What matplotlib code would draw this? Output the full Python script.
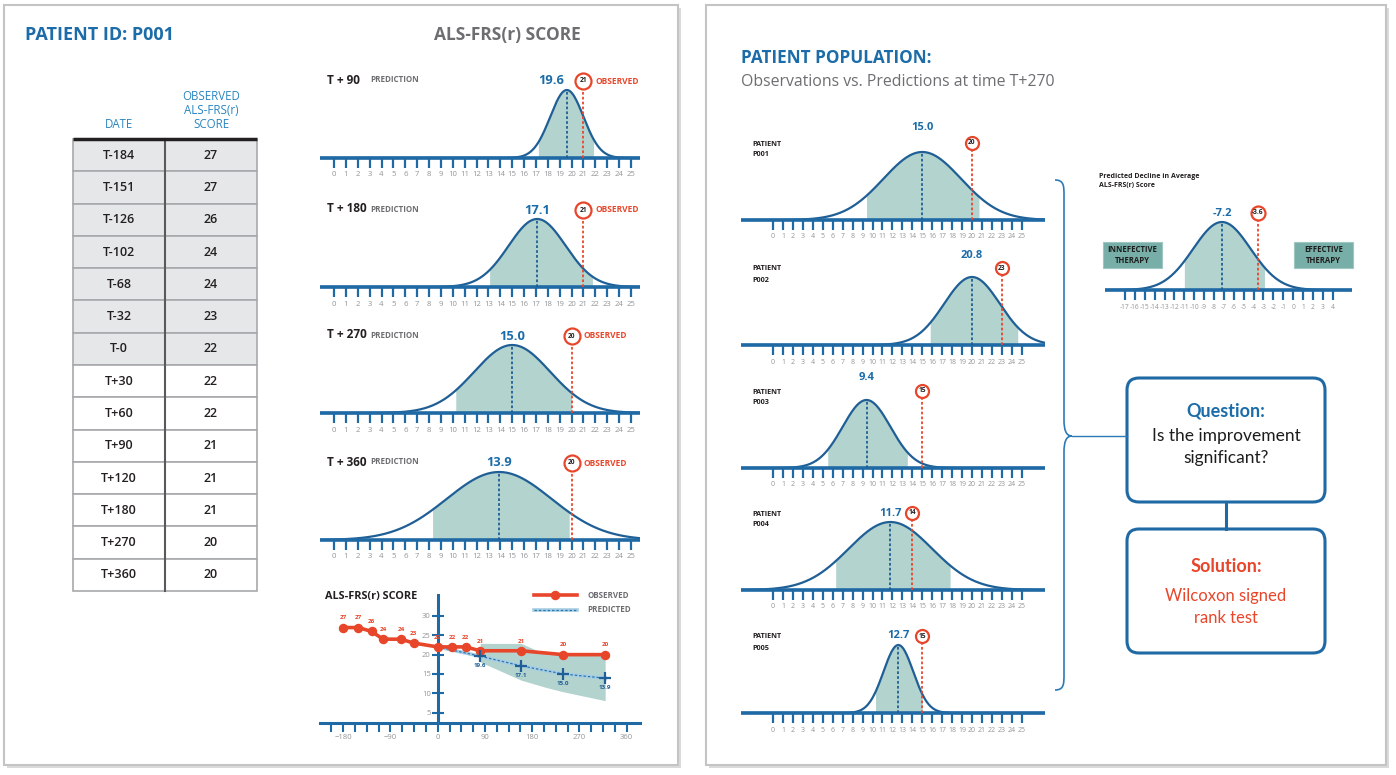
import numpy as np
import matplotlib
matplotlib.use('Agg')
import matplotlib.pyplot as plt
from matplotlib.patches import Rectangle, FancyBboxPatch, PathPatch
from matplotlib.path import Path

W, H = 1396, 775
plt.rcParams['font.family'] = ['Open Sans', 'DejaVu Sans']

# ---- data ----
table_dates = ['T-184', 'T-151', 'T-126', 'T-102', 'T-68', 'T-32', 'T-0',
               'T+30', 'T+60', 'T+90', 'T+120', 'T+180', 'T+270', 'T+360']
table_scores = [27, 27, 26, 24, 24, 23, 22, 22, 22, 21, 21, 21, 20, 20]

horizons = ['T + 90', 'T + 180', 'T + 270', 'T + 360']
pred_mean = [19.6, 17.1, 15.0, 13.9]
pred_sd = [1.4, 2.4, 3.2, 4.4]
pred_lo = [17.2, 13.1, 10.25, 8.3]
pred_hi = [21.85, 21.75, 20.0, 19.8]
pred_obs = [21, 21, 20, 20]

pop_ids = ['P001', 'P002', 'P003', 'P004', 'P005']
pop_centre = [15.0, 20.0, 9.4, 11.8, 12.6]
pop_label = ['15.0', '20.8', '9.4', '11.7', '12.7']
pop_sd = [3.9, 2.8, 2.4, 4.2, 1.5]
pop_lo = [9.4, 15.8, 5.5, 6.3, 10.3]
pop_hi = [20.7, 24.6, 13.5, 17.8, 15.0]
pop_obs = [20, 23, 15, 14, 15]

decl_mean = -7.2
decl_sd = 2.9
decl_lo = -11.0
decl_hi = -2.9
decl_obs = -3.6

obs_day = [-180, -151, -126, -104, -70, -46, 0, 28, 53, 81, 159, 239, 319]
obs_score = [27, 27, 26, 24, 24, 23, 22, 22, 22, 21, 21, 20, 20]
pred_day = [0, 81, 159, 239, 319]
pred_score = [22, 19.6, 17.1, 15.0, 13.9]
band_day = [81, 159, 207, 239, 319]
band_lo = [18.1, 13.4, 11.5, 10.4, 8.1]
band_hi = [22.9, 22.9, 20.0, 20.0, 20.0]

# ---- colours ----
BLUE = '#1b6ca8'
AXIS = '#1f69a4'
CURVE = '#1f5f95'
SHADE = '#b3d3cf'
RED = '#e8462b'
GREY = '#6d6e71'
TICKG = '#939598'
LBLUE = '#2a85c2'

fig = plt.figure(figsize=(W / 100, H / 100), dpi=100)
fig.patch.set_facecolor('white')

# overlay in pixel coordinates for frames, headings and connectors
ax0 = fig.add_axes([0, 0, 1, 1])
ax0.set_xlim(0, W)
ax0.set_ylim(H, 0)
ax0.axis('off')


def px_axes(x0, y0, x1, y1):
    ax = fig.add_axes([x0 / W, 1 - y1 / H, (x1 - x0) / W, (y1 - y0) / H])
    ax.patch.set_visible(False)
    return ax


def txt(x, y, s, **kw):
    kw.setdefault('va', 'center')
    ax0.text(x, y, s, **kw)


# panel frames with a soft shadow
for x, w in [(4, 674), (706, 680)]:
    ax0.add_patch(Rectangle((x + 3, 8), w, 760, fc='#dadada', ec='none'))
    ax0.add_patch(Rectangle((x, 5), w, 760, fc='white', ec='#c4c4c4', lw=1.5))

# ---- left panel: headings and table ----
txt(25, 35, 'PATIENT ID: P001', color=BLUE, fontsize=13, weight='bold')
txt(507, 35, 'ALS-FRS(r) SCORE', color=GREY, fontsize=12.5, weight='bold', ha='center')
txt(119, 125, 'DATE', color=LBLUE, fontsize=8.3, ha='center')
txt(211, 111, 'OBSERVED\nALS-FRS(r)\nSCORE', color=LBLUE, fontsize=8.3, ha='center',
    linespacing=1.1)

axt = px_axes(73, 139, 257, 591)
axt.set_xlim(0, 2)
axt.set_ylim(len(table_dates), 0)
axt.axis('off')
for i, (d, s) in enumerate(zip(table_dates, table_scores)):
    fc = '#e6e7e8' if i < 7 else 'white'
    for c, lab in enumerate([d, str(s)]):
        axt.add_patch(Rectangle((c, i), 1, 1, fc=fc, ec='#a7a9ac', lw=1.2, clip_on=False))
        axt.text(c + 0.5, i + 0.5, lab, ha='center', va='center', fontsize=9,
                 weight='semibold', color='#231f20')
axt.plot([1, 1], [0, len(table_dates)], color='#58595b', lw=1.5, clip_on=False)
axt.plot([0, 2], [0, 0], color='#231f20', lw=2.5, clip_on=False, solid_capstyle='butt')

PEAK = 68
CIRC = 77


def dist_panel(x0, x1, axis_y, tick0, ppu, ticks, centre, sd, lo, hi, obs,
               tick_fs, r, obs_label=None):
    ax = px_axes(x0, axis_y - 100, x1, axis_y + 25)
    ax.set_xlim((x0 - tick0) / ppu, (x1 - tick0) / ppu)
    ax.set_ylim(-25, 100)
    ax.axis('off')
    xs = np.linspace((x0 - tick0) / ppu, (x1 - tick0) / ppu, 500)
    ys = PEAK * np.exp(-0.5 * ((xs - centre) / sd) ** 2)
    xi = np.linspace(lo, hi, 200)
    ax.fill_between(xi, 0, PEAK * np.exp(-0.5 * ((xi - centre) / sd) ** 2),
                    color=SHADE, lw=0)
    ax.plot(xs, ys, color=CURVE, lw=1.6)
    ax.axhline(0, color=AXIS, lw=2.6)
    ax.vlines(ticks, -10, 0, color=AXIS, lw=1.6)
    for t in ticks:
        ax.text(t, -17, str(t), ha='center', va='center', fontsize=tick_fs, color=TICKG)
    ax.vlines(centre, 0, PEAK, color=CURVE, lw=1.3, linestyles=(0, (1.5, 1.2)))
    ax.vlines(obs, 0, CIRC - r, color=RED, lw=1.3, linestyles=(0, (1.5, 1.2)))
    ax.plot(obs, CIRC, 'o', ms=2 * r / 1.39, mfc='white', mec=RED, mew=1.6)
    ax.text(obs, CIRC, obs_label if obs_label else str(obs), ha='center', va='center',
            fontsize=4.8, weight='bold', color='#231f20')
    return ax


# ---- left panel: predictions at four horizons ----
left_axis_y = [158, 287, 413, 540]
left_label_dx = [-1.3, 0, 0, 0]
for k, hz in enumerate(horizons):
    ay = left_axis_y[k]
    ax = dist_panel(320, 640, ay, 334, 11.88, list(range(26)), pred_mean[k], pred_sd[k],
                    pred_lo[k], pred_hi[k], pred_obs[k], 5.6, 8)
    ax.text(pred_obs[k] + 12 / 11.88, CIRC, 'OBSERVED', ha='left', va='center',
            fontsize=6, weight='bold', color=RED)
    ax.text(pred_mean[k] + left_label_dx[k], CIRC, f'{pred_mean[k]:.1f}', ha='center',
            va='center', fontsize=9.3, weight='bold', color=BLUE)
    txt(327, ay - 78, hz, fontsize=8.5, weight='bold', color='#231f20')
    txt(370, ay - 78, 'PREDICTION', fontsize=5.8, weight='bold', color=GREY)

# ---- left panel: score over time ----
axl = px_axes(320, 588, 640, 745)
axl.set_xlim((320 - 437.7) / 0.525, (640 - 437.7) / 0.525)
axl.set_ylim((732 - 745) / 3.868, (732 - 588) / 3.868)
for sp in ['top', 'right']:
    axl.spines[sp].set_visible(False)
axl.spines['left'].set_position(('data', 0))
axl.spines['bottom'].set_position(('data', 2.4))
axl.spines['left'].set_bounds(2.4, 35.4)
for sp in ['left', 'bottom']:
    axl.spines[sp].set_color(AXIS)
    axl.spines[sp].set_linewidth(2.2)
axl.set_xticks([-180, -90, 0, 90, 180, 270, 360])
axl.set_xticks(np.arange(-202.5, 361, 22.5), minor=True)
axl.set_yticks([5, 10, 15, 20, 25, 30])
axl.tick_params(axis='x', which='both', direction='out', length=6.5, width=1.5,
                color=AXIS, labelsize=5.5, labelcolor=TICKG, pad=1.5)
axl.tick_params(axis='y', direction='inout', length=8, width=1.5, color=AXIS,
                labelsize=5.5, labelcolor=TICKG, pad=1)
axl.fill_between(band_day, band_lo, band_hi, color=SHADE, lw=0, zorder=1)
axl.plot(pred_day, pred_score, color='#a6cde3', lw=2.6, zorder=2)
axl.plot(pred_day, pred_score, color='#2a78b0', lw=0.9, ls=(0, (2, 1.5)), zorder=3)
axl.plot(pred_day[1:], pred_score[1:], '+', color=CURVE, ms=8, mew=1.6, zorder=5)
axl.plot(obs_day, obs_score, color=RED, lw=2.6, marker='o', ms=5.8, zorder=4)
for d, s in zip(obs_day, obs_score):
    axl.annotate(str(s), (d, s), xytext=(0, 7), textcoords='offset points', ha='center',
                 va='center', fontsize=4.5, weight='bold', color=RED)
for d, s in zip(pred_day[1:], pred_score[1:]):
    axl.annotate(f'{s:.1f}', (d, s), xytext=(0, -7), textcoords='offset points',
                 ha='center', va='center', fontsize=4.5, weight='bold', color=CURVE)

txt(325, 596, 'ALS-FRS(r) SCORE', fontsize=7.8, weight='bold', color='#231f20')
ax0.plot([534, 577], [595, 595], color=RED, lw=2.6)
ax0.plot([555], [595], 'o', color=RED, ms=5.8)
ax0.plot([534, 577], [610, 610], color='#a6cde3', lw=2.6)
ax0.plot([534, 577], [610, 610], color='#2a78b0', lw=0.9, ls=(0, (2, 1.5)))
txt(587, 595, 'OBSERVED', fontsize=5.8, weight='bold', color=GREY)
txt(587, 610, 'PREDICTED', fontsize=5.8, weight='bold', color=GREY)

# ---- right panel ----
txt(741, 58, 'PATIENT POPULATION:', color=BLUE, fontsize=12.3, weight='bold')
txt(741, 82, 'Observations vs. Predictions at time T+270', color=GREY, fontsize=11.4)

pop_axis_y = [220, 345, 468, 590, 713]
pop_label_dy = [93, 89, 90, 77, 78]
for k, pid in enumerate(pop_ids):
    ay = pop_axis_y[k]
    ax = dist_panel(741, 1045, ay, 773, 9.95, list(range(26)), pop_centre[k], pop_sd[k],
                    pop_lo[k], pop_hi[k], pop_obs[k], 5, 6.5)
    ax.text(pop_centre[k], pop_label_dy[k], pop_label[k], ha='center', va='center',
            fontsize=8, weight='bold', color=BLUE)
    txt(752, ay - 76, 'PATIENT', fontsize=5.2, weight='bold', color='#231f20')
    txt(752, ay - 65, pid, fontsize=5.2, weight='bold', color='#231f20')

# predicted decline in average score
axd = dist_panel(1105, 1352, 290, 1125 + 17 * 9.89, 9.89, list(range(-17, 5)),
                 decl_mean, decl_sd, decl_lo, decl_hi, decl_obs, 4.8, 7,
                 obs_label=f'{decl_obs:.1f}')
axd.text(decl_mean, CIRC, f'{decl_mean:.1f}', ha='center', va='center', fontsize=8,
         weight='bold', color=BLUE)
txt(1099, 177, 'Predicted Decline in Average', fontsize=5, weight='bold', color='#231f20')
txt(1099, 186, 'ALS-FRS(r) Score', fontsize=5, weight='bold', color='#231f20')
for bx, lab in [(1103, 'INNEFECTIVE\nTHERAPY'), (1294, 'EFFECTIVE\nTHERAPY')]:
    ax0.add_patch(Rectangle((bx, 242), 59, 26, fc='#78aea8', ec='#9fc7c2', lw=0.8))
    txt(bx + 29.5, 255, lab, ha='center', fontsize=5.6, weight='bold', color='#1d1d1b',
        linespacing=1.15)

# brace and connectors
verts = [(1055, 180), (1064, 180), (1064, 186), (1064, 196), (1064, 420),
         (1064, 430), (1066, 436), (1072, 436), (1066, 436), (1064, 442), (1064, 452),
         (1064, 674), (1064, 684), (1064, 690), (1055, 690)]
codes = [Path.MOVETO, Path.CURVE4, Path.CURVE4, Path.CURVE4, Path.LINETO,
         Path.CURVE4, Path.CURVE4, Path.CURVE4, Path.CURVE4, Path.CURVE4, Path.CURVE4,
         Path.LINETO, Path.CURVE4, Path.CURVE4, Path.CURVE4]
ax0.add_patch(PathPatch(Path(verts, codes), fc='none', ec='#2c7bb6', lw=1.2))
ax0.plot([1072, 1127], [436, 436], color='#2c7bb6', lw=1.0)

for by in [378, 529]:
    ax0.add_patch(FancyBboxPatch((1127, by), 198, 124,
                                 boxstyle='round,pad=0,rounding_size=12',
                                 fc='white', ec=AXIS, lw=2.2))
ax0.plot([1226, 1226], [502, 529], color=AXIS, lw=2.2)

qfont = ['Lato', 'DejaVu Sans']
txt(1226, 411, 'Question:', ha='center', fontsize=13, weight='bold', color=BLUE, family=qfont)
txt(1226, 447, 'Is the improvement\nsignificant?', ha='center', fontsize=12.5,
    color='#1d1d1b', family=qfont, linespacing=1.4)
txt(1226, 567, 'Solution:', ha='center', fontsize=13, weight='bold', color=RED, family=qfont)
txt(1226, 607, 'Wilcoxon signed\nrank test', ha='center', fontsize=12, color=RED,
    family=qfont, linespacing=1.45)

fig.savefig('out.png', dpi=100)
